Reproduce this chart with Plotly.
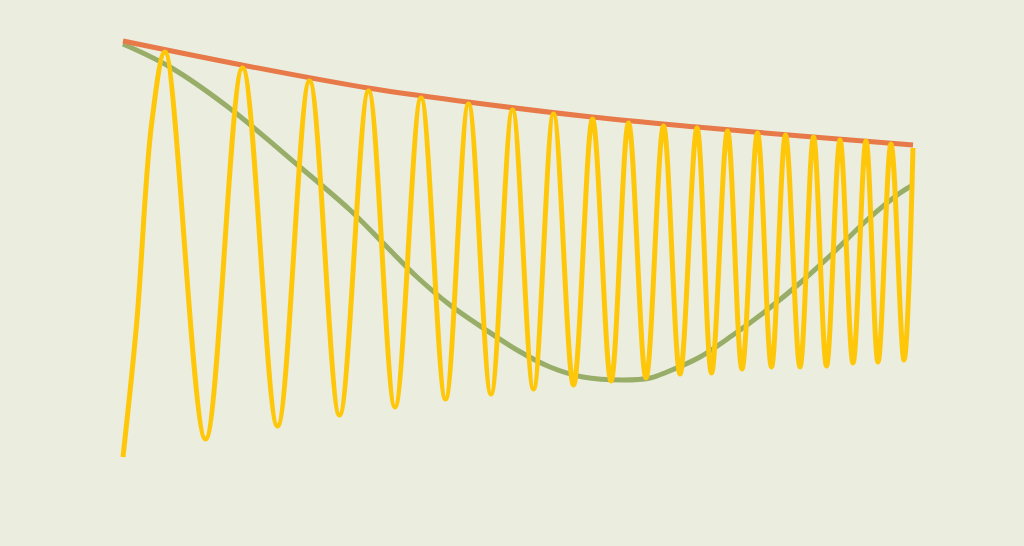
import plotly.graph_objects as go

# Horizontal position (t) and value
env_t = [0, 119, 245, 345, 469, 574, 690, 790]
env_v = [209, 185, 162, 148, 133, 123, 113, 105]

wave_t = [0, 13.7, 28.7, 42, 82.5, 119.5, 154.5, 186.5, 216.5, 245.5, 272, 298, 322.5,
          345.5, 368, 389.5, 410.5, 430.5, 450.5, 469.5, 488, 505.5, 523, 540.5, 557, 574,
          588.5, 604.5, 619, 634.5, 648.5, 662.5, 677, 690.5, 703.5, 717, 730, 743, 755, 768, 781, 790]
wave_v = [-207, -73, 127, 198, -189, 182, -176, 169, -165, 159, -157, 152, -149,
          146, -144, 140, -139, 136, -135, 131, -131, 127, -128, 124, -124, 122,
          -123, 119, -119, 117, -117, 115, -117, 113, -116, 110, -113, 109, -112, 106, -110, 102]

slow_t = [0, 47, 105, 177, 227, 260, 294, 327, 360, 394, 427, 460, 500, 527, 544, 577, 610, 644, 677, 710, 744, 777, 790]
slow_v = [206, 183, 143, 83, 40, 7, -27, -55, -78, -100, -117, -127, -130, -128, -122, -107, -85, -60, -33, -3, 30, 57, 65]

BG = "#EBEDDE"

fig = go.Figure()
fig.add_trace(go.Scatter(x=slow_t, y=slow_v, mode="lines",
                         line=dict(color="#98AE68", width=5, shape="spline"),
                         hoverinfo="skip", showlegend=False))
fig.add_trace(go.Scatter(x=env_t, y=env_v, mode="lines",
                         line=dict(color="#E87948", width=5, shape="spline"),
                         hoverinfo="skip", showlegend=False))
fig.add_trace(go.Scatter(x=wave_t, y=wave_v, mode="lines",
                         line=dict(color="#FFC70A", width=5, shape="spline"),
                         hoverinfo="skip", showlegend=False))

fig.update_layout(
    width=1024, height=546,
    margin=dict(l=0, r=0, t=0, b=0),
    paper_bgcolor=BG, plot_bgcolor=BG,
    xaxis=dict(range=[-123, 901], visible=False, fixedrange=True),
    yaxis=dict(range=[-296, 250], visible=False, fixedrange=True),
)

fig.write_html(
    "out.html",
    config={"displayModeBar": False},
    post_script="document.body.style.margin='0';document.body.style.overflow='hidden';document.body.style.background='" + BG + "';",
)
